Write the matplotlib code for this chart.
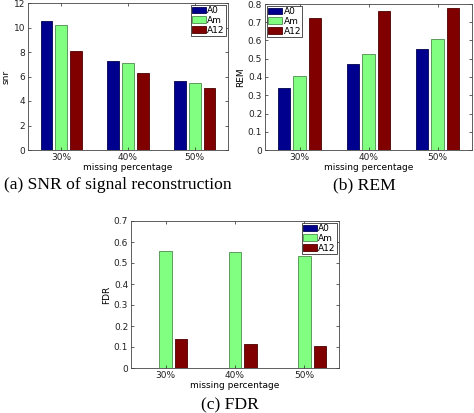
import numpy as np
import matplotlib
matplotlib.use("Agg")
import matplotlib.pyplot as plt
from matplotlib.patches import Patch

groups = ["30%", "40%", "50%"]
series = ["A0", "Am", "A12"]

snr_a0 = [10.55, 7.25, 5.65]
snr_am = [10.2, 7.1, 5.5]
snr_a12 = [8.1, 6.25, 5.05]

rem_a0 = [0.338, 0.469, 0.551]
rem_am = [0.405, 0.528, 0.606]
rem_a12 = [0.723, 0.763, 0.776]

fdr_a0 = [0.0, 0.0, 0.0]
fdr_am = [0.556, 0.551, 0.531]
fdr_a12 = [0.136, 0.112, 0.103]

colors = [(0, 0, 0.56), (0.5, 1, 0.5), (0.5, 0, 0)]
edges = [(0, 0, 0.3), (0.3, 0.55, 0.3), (0.3, 0, 0)]

W, H = 474, 413
fig = plt.figure(figsize=(W / 100, H / 100), dpi=100)


def px_axes(left, top, right, bottom):
    return fig.add_axes([left / W, 1 - bottom / H, (right - left) / W, (bottom - top) / H])


def panel(ax, data, ylim, yticks, ytlabels, ylabel, legend_loc):
    x = np.arange(1, 4)
    bw = 0.178
    for k, vals in enumerate(data):
        ax.bar(x + (k - 1) * 0.222, vals, bw, color=colors[k],
               edgecolor=edges[k], linewidth=0.6)
    ax.set_xlim(0.5, 3.5)
    ax.set_ylim(*ylim)
    ax.set_xticks(x)
    ax.set_xticklabels(groups)
    ax.set_yticks(yticks)
    ax.set_yticklabels(ytlabels)
    ax.tick_params(direction="in", length=2.5, width=0.5, labelsize=6.5,
                   top=True, right=True, pad=2, colors="#222222")
    for s in ax.spines.values():
        s.set_linewidth(0.6)
        s.set_color("#444444")
    ax.set_xlabel("missing percentage", fontsize=6.5, labelpad=1)
    ax.set_ylabel(ylabel, fontsize=6.5, labelpad=2)
    handles = [Patch(facecolor=colors[k], edgecolor=edges[k], linewidth=0.6)
               for k in range(3)]
    leg = ax.legend(handles, series, loc=legend_loc, fontsize=6.5, fancybox=False,
                    edgecolor="#333333", framealpha=1, borderpad=0.15,
                    handlelength=1.5, handleheight=0.8, handletextpad=0.2,
                    labelspacing=0.1, borderaxespad=0.2)
    leg.get_frame().set_linewidth(0.6)


ax1 = px_axes(28, 3, 228, 150)
panel(ax1, [snr_a0, snr_am, snr_a12], (0, 12), range(0, 13, 2),
      [str(v) for v in range(0, 13, 2)], "snr", "upper right")

ax2 = px_axes(265, 4, 472, 150)
rt = np.arange(0, 0.81, 0.1)
panel(ax2, [rem_a0, rem_am, rem_a12], (0, 0.8), rt,
      ["0"] + ["%.1f" % v for v in rt[1:]], "REM", "upper left")

ax3 = px_axes(131, 221, 339, 368)
ft = np.arange(0, 0.71, 0.1)
panel(ax3, [fdr_a0, fdr_am, fdr_a12], (0, 0.7), ft,
      ["0"] + ["%.1f" % v for v in ft[1:]], "FDR", "upper right")

cap = dict(fontsize=12.6, family="Liberation Serif", ha="center", va="center")
fig.text(118 / W, 1 - 185 / H, "(a) SNR of signal reconstruction", **cap)
fig.text(364 / W, 1 - 185 / H, "(b) REM", **cap)
fig.text(230 / W, 1 - 405 / H, "(c) FDR", **cap)

fig.savefig("out.png", dpi=100)
